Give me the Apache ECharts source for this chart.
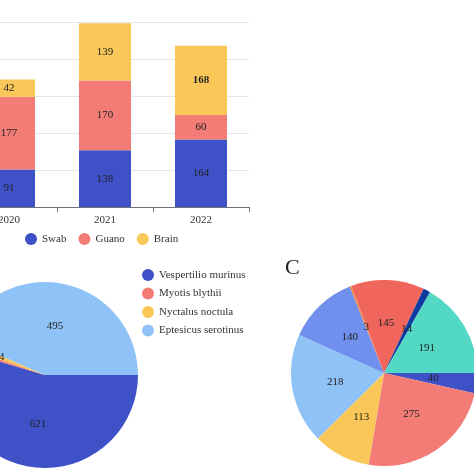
<!DOCTYPE html><html><head><meta charset="utf-8">
<script src="https://cdn.jsdelivr.net/npm/echarts@6/dist/echarts.min.js"></script>
<style>html,body{margin:0;padding:0;background:#fff}#c{width:474px;height:474px}</style></head><body><div id="c"></div>
<script>
const years=['2020','2021','2022'];
const swab=[91,138,164];
const guano=[177,170,60];
const brain=[42,139,168];
const speciesNames=['Vespertilio murinus','Myotis blythii','Nyctalus noctula','Eptesicus serotinus'];
const speciesVals=[621,9,14,495];
const cVals=[40,275,113,218,140,3,145,14,191];
const cColors=['#3f51c6','#f47c76','#fac858','#8fc3f7','#7190ee','#f08a3a','#f0665c','#0f3ca0','#52d8c5'];
const F='Liberation Serif';
const ch=echarts.init(document.getElementById('c'));
const lbl={show:true,position:'inside',color:'#222',fontFamily:F,fontSize:11};
ch.setOption({
 animation:false,
 textStyle:{fontFamily:F},
 title:{text:'C',left:280,top:252,textStyle:{fontFamily:F,fontWeight:'normal',fontSize:22,color:'#222'}},
 grid:{left:-39,right:225,top:22,bottom:267,containLabel:false,outerBoundsMode:'none'},
 xAxis:{type:'category',data:years,axisLine:{lineStyle:{color:'#6e7079'}},axisTick:{show:true},axisLabel:{color:'#333',fontFamily:F,fontSize:11,margin:8}},
 yAxis:{type:'value',min:0,max:450,interval:90,axisLabel:{show:false},splitLine:{lineStyle:{color:'#e6e6e6'}}},
 legend:[{data:['Swab','Guano','Brain'],left:20,top:228,icon:'circle',itemWidth:12,itemHeight:12,itemGap:12,textStyle:{fontFamily:F,fontSize:11,color:'#333'}},
  {data:speciesNames,orient:'vertical',left:137,top:264,icon:'circle',itemWidth:12,itemHeight:12,itemGap:6.5,textStyle:{fontFamily:F,fontSize:11,color:'#333'}}],
 series:[
  {name:'Swab',type:'bar',stack:'a',data:swab,barWidth:52,itemStyle:{color:'#3f51c6'},label:lbl},
  {name:'Guano',type:'bar',stack:'a',data:guano,itemStyle:{color:'#f47c76'},label:lbl},
  {name:'Brain',type:'bar',stack:'a',data:brain,itemStyle:{color:'#fac858'},label:{...lbl,formatter:p=>p.dataIndex===2?'{b|'+p.value+'}':p.value,rich:{b:{fontWeight:'bold',fontFamily:F,fontSize:11,color:'#222'}}}},
  {type:'pie',center:[45,375],radius:93,startAngle:0,clockwise:true,
   data:speciesNames.map((n,i)=>({name:n,value:speciesVals[i]})),
   color:['#3f51c6','#f47c76','#fac858','#8fc3f7'],
   label:{show:true,position:'inside',formatter:'{c}',color:'#222',fontFamily:F,fontSize:11},labelLine:{show:false}},
  {type:'pie',center:[384,373],radius:93,startAngle:0,clockwise:true,
   data:cVals.map((v,i)=>({name:'c'+i,value:v,itemStyle:{color:cColors[i]}})),
   label:{show:true,position:'inside',formatter:'{c}',color:'#222',fontFamily:F,fontSize:11},labelLine:{show:false}}
 ]
});
</script></body></html>
